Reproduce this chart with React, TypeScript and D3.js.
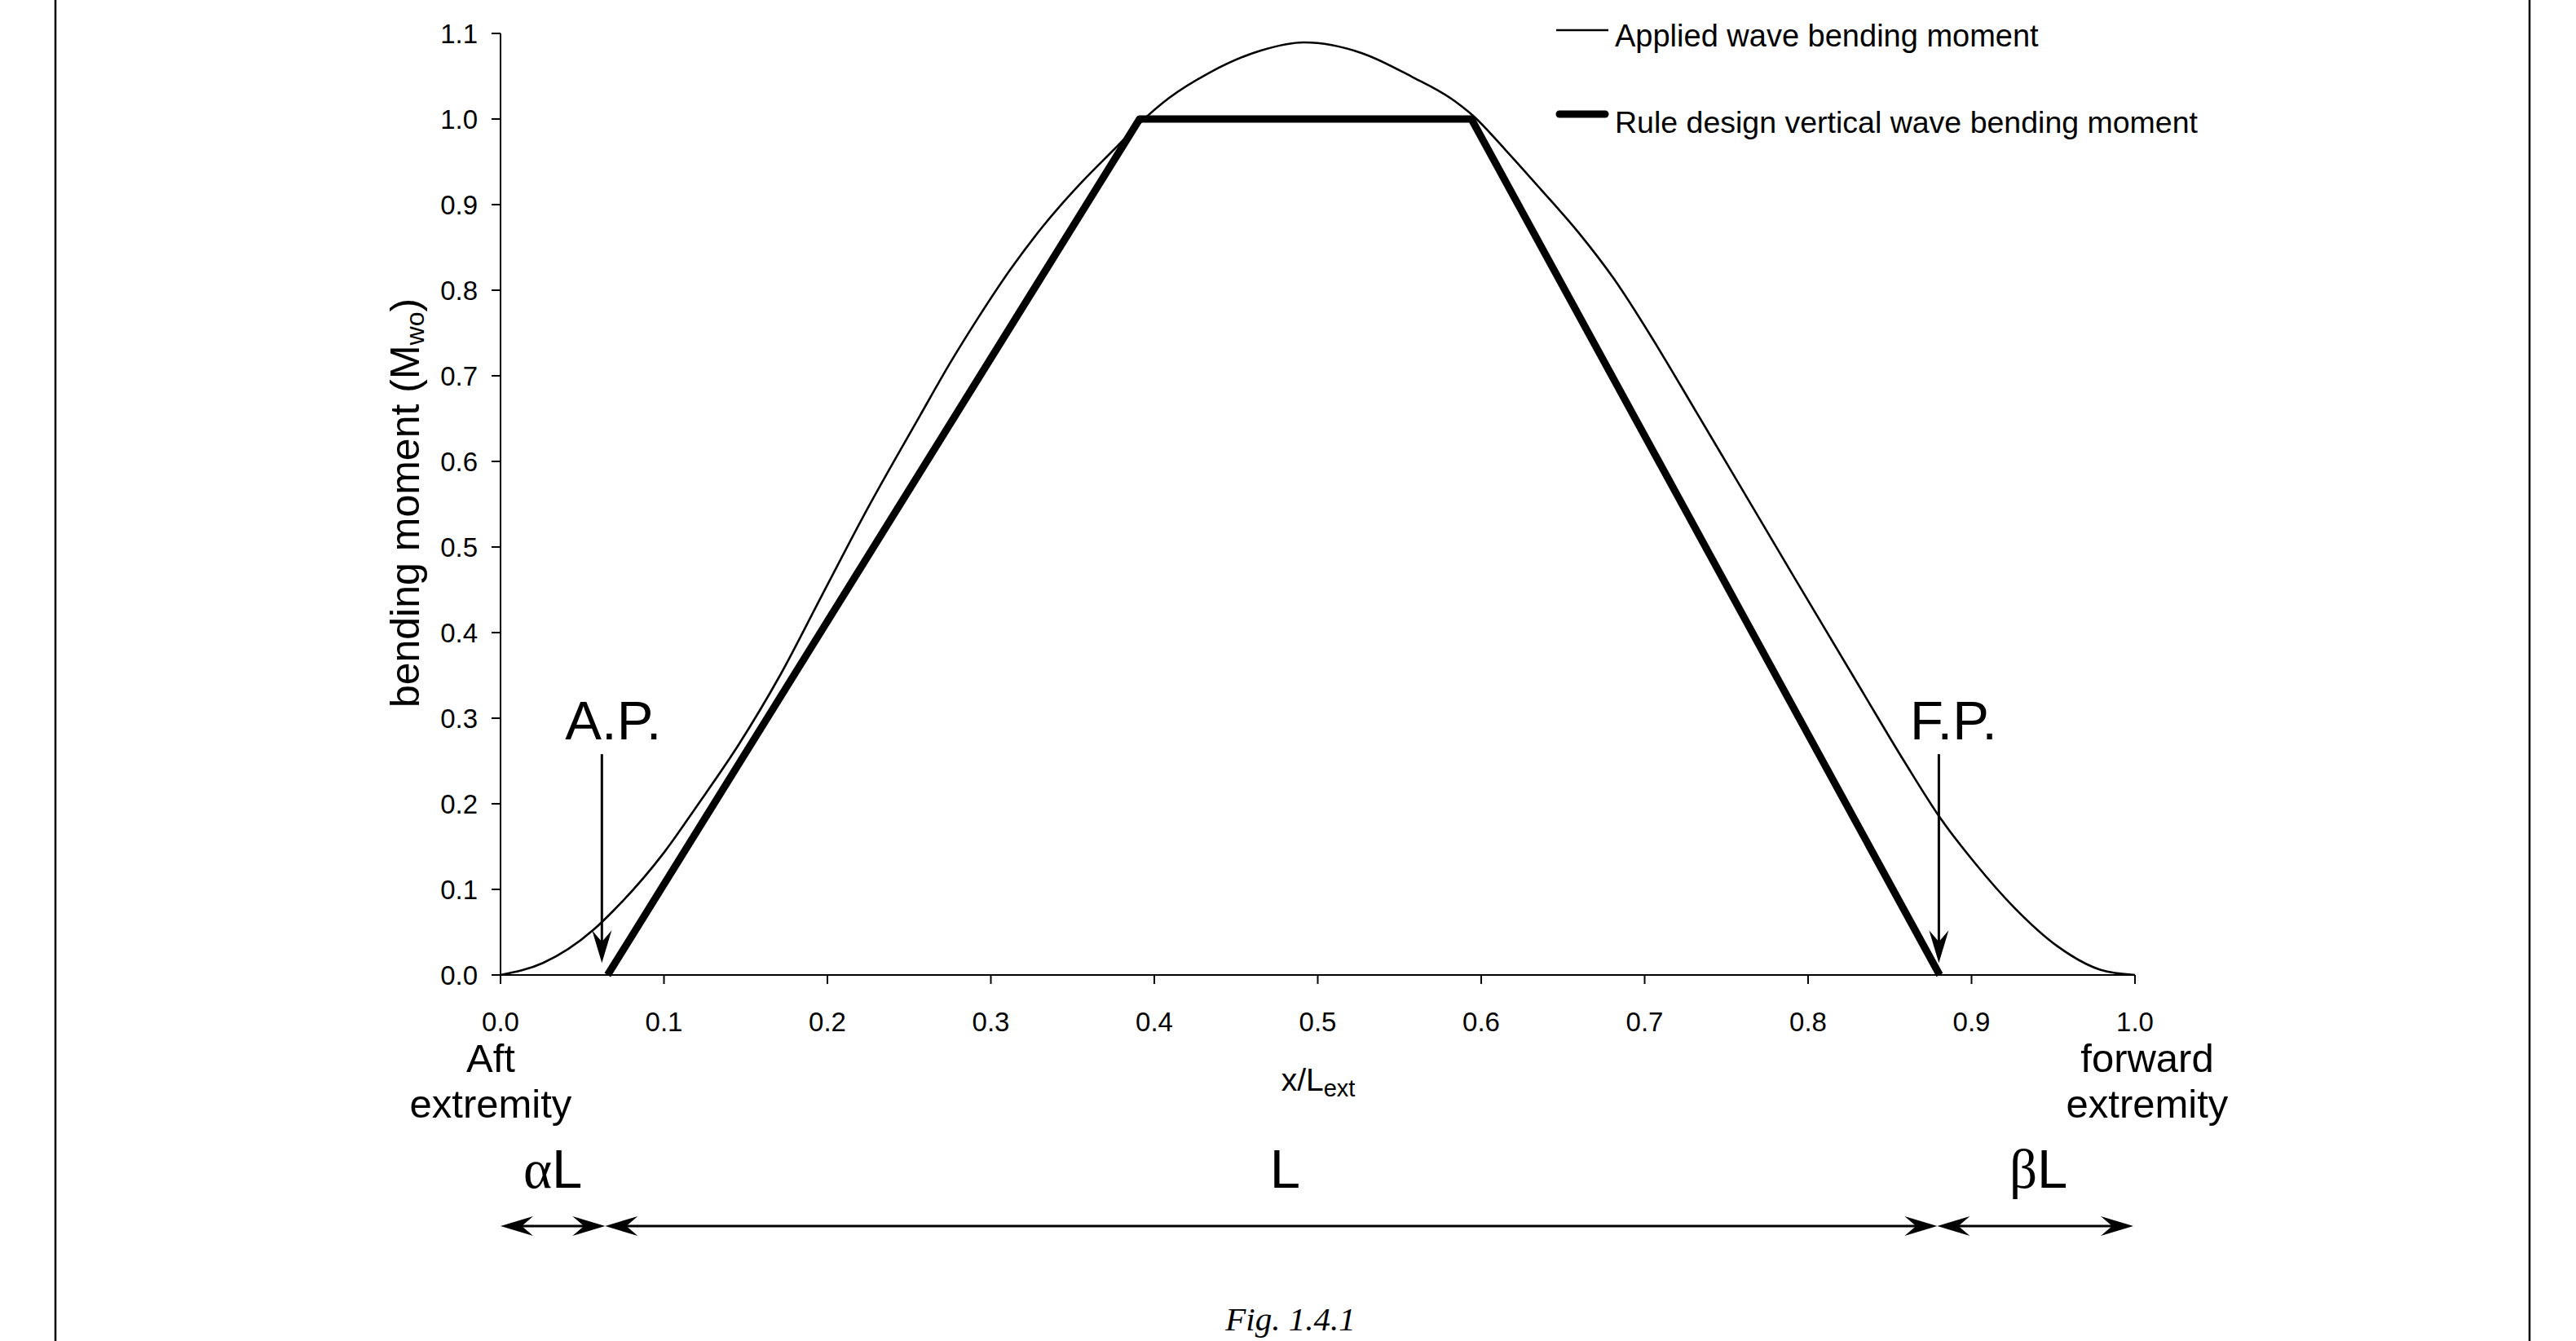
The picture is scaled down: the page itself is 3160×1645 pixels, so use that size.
import React from "react";
import * as d3 from "d3";

// ---- data ----
const xTickValues = [0, 0.1, 0.2, 0.3, 0.4, 0.5, 0.6, 0.7, 0.8, 0.9, 1.0];
const yTickValues = [0, 0.1, 0.2, 0.3, 0.4, 0.5, 0.6, 0.7, 0.8, 0.9, 1.0, 1.1];

// Applied wave bending moment (thin curve)
const appliedX = [0, 0.026, 0.057, 0.069, 0.1, 0.12, 0.146, 0.171, 0.1965, 0.224, 0.2565, 0.2757, 0.2923, 0.3122, 0.3322, 0.3555, 0.3754, 0.391, 0.4086, 0.4336, 0.4652, 0.4915, 0.527, 0.558, 0.5815, 0.5949, 0.6148, 0.6364, 0.6597, 0.6813, 0.7062, 0.7312, 0.752, 0.792, 0.832, 0.859, 0.881, 0.902, 0.926, 0.953, 0.979, 1.0];
const appliedY = [0, 0.014, 0.053, 0.075, 0.143, 0.197, 0.27, 0.35, 0.443, 0.543, 0.653, 0.717, 0.768, 0.825, 0.8755, 0.926, 0.9645, 0.995, 1.024, 1.054, 1.08, 1.0895, 1.077, 1.049, 1.024, 1.004, 0.964, 0.918, 0.867, 0.813, 0.739, 0.659, 0.592, 0.463, 0.335, 0.249, 0.183, 0.131, 0.079, 0.033, 0.006, 0];

// Rule design vertical wave bending moment (thick trapezoid)
const ruleX = [0.0655, 0.391, 0.594, 0.8805];
const ruleY = [0, 1, 1, 0];

const legendLabels = ["Applied wave bending moment", "Rule design vertical wave bending moment"];

// Marker positions
const apX = 0.062;
const fpX = 0.88;
const markerTop = 0.258;
const markerTip = 0.014;
const markerLabelY = 0.275;

// Dimension arrow stations (x/Lext)
const dimStations = [0.0, 0.064, 0.879, 0.999];
const dimLabels = ["αL", "L", "βL"];
const dimLabelX = [0.032, 0.48, 0.941];

const W = 3160;
const H = 1645;
const SANS = "'Liberation Sans', Arial, sans-serif";
const SERIF = "'Liberation Serif', 'Times New Roman', serif";

function arrowHead(tx: number, ty: number, angle: number, len = 40, half = 12, notch = 26) {
  const c = Math.cos(angle);
  const s = Math.sin(angle);
  const pt = (u: number, v: number) => [tx + u * c - v * s, ty + u * s + v * c];
  const p1 = pt(-len, -half);
  const p2 = pt(-notch, 0);
  const p3 = pt(-len, half);
  return `M${tx},${ty}L${p1[0]},${p1[1]}L${p2[0]},${p2[1]}L${p3[0]},${p3[1]}Z`;
}

export default function App() {
  const x = d3.scaleLinear().domain([0, 1]).range([614, 2619]);
  const y = d3.scaleLinear().domain([0, 1.1]).range([1196, 41]);

  const appliedData = appliedX.map((v, i) => [v, appliedY[i]] as [number, number]);
  const ruleData = ruleX.map((v, i) => [v, ruleY[i]] as [number, number]);

  const appliedLine = d3
    .line<[number, number]>()
    .x((d) => x(d[0]))
    .y((d) => y(d[1]))
    .curve(d3.curveMonotoneX);
  const ruleLine = d3
    .line<[number, number]>()
    .x((d) => x(d[0]))
    .y((d) => y(d[1]));

  const fmt = d3.format(".1f");
  const dimY = 1504;

  return (
    <svg
      width={W}
      height={H}
      viewBox={`0 0 ${W} ${H}`}
      style={{ position: "absolute", left: 0, top: 0, background: "#fff" }}
      fontFamily={SANS}
    >
      <rect x={0} y={0} width={W} height={H} fill="#fff" />
      {/* page border lines */}
      <line x1={68} x2={68} y1={0} y2={H} stroke="#000" strokeWidth={2.5} />
      <line x1={3103} x2={3103} y1={0} y2={H} stroke="#000" strokeWidth={2.5} />

      {/* axes */}
      <line x1={x(0)} x2={x(0)} y1={y(0)} y2={y(1.1)} stroke="#000" strokeWidth={2} />
      <line x1={x(0)} x2={x(1)} y1={y(0)} y2={y(0)} stroke="#000" strokeWidth={2} />
      {yTickValues.map((t) => (
        <g key={"yt" + t}>
          <line x1={x(0) - 11} x2={x(0)} y1={y(t)} y2={y(t)} stroke="#000" strokeWidth={2} />
          <text x={586} y={y(t) + 12} fontSize={33} textAnchor="end" fill="#000">
            {fmt(t)}
          </text>
        </g>
      ))}
      {xTickValues.map((t) => (
        <g key={"xt" + t}>
          <line x1={x(t)} x2={x(t)} y1={y(0)} y2={y(0) + 11} stroke="#000" strokeWidth={2} />
          <text x={x(t)} y={1265} fontSize={33} textAnchor="middle" fill="#000">
            {fmt(t)}
          </text>
        </g>
      ))}

      {/* axis titles */}
      <text transform="translate(514,617) rotate(-90)" fontSize={50} textAnchor="middle" fill="#000">
        bending moment (M
        <tspan fontSize={32} dy={6}>wo</tspan>
        <tspan dy={-6}>)</tspan>
      </text>
      <text x={1617} y={1338} fontSize={39} textAnchor="middle" fill="#000">
        x/L
        <tspan fontSize={29} dy={7}>ext</tspan>
      </text>

      {/* series */}
      <path d={appliedLine(appliedData) || ""} fill="none" stroke="#000" strokeWidth={2.6} />
      <path
        d={ruleLine(ruleData) || ""}
        fill="none"
        stroke="#000"
        strokeWidth={9}
        strokeLinejoin="round"
        strokeLinecap="butt"
      />

      {/* legend */}
      <line x1={1909} x2={1973} y1={37} y2={37} stroke="#000" strokeWidth={2.6} />
      <text x={1981} y={57} fontSize={38} fill="#000">
        {legendLabels[0]}
      </text>
      <line x1={1913} x2={1969} y1={140} y2={140} stroke="#000" strokeWidth={9} strokeLinecap="round" />
      <text x={1981} y={163} fontSize={37.5} fill="#000">
        {legendLabels[1]}
      </text>

      {/* A.P. / F.P. markers */}
      {[
        { xv: apX, label: "A.P.", lx: 0.069 },
        { xv: fpX, label: "F.P.", lx: 0.889 },
      ].map((m) => (
        <g key={m.label}>
          <text x={x(m.lx)} y={y(markerLabelY)} fontSize={67} textAnchor="middle" fill="#000">
            {m.label}
          </text>
          <line x1={x(m.xv)} x2={x(m.xv)} y1={y(markerTop)} y2={y(markerTip) - 20} stroke="#000" strokeWidth={3} />
          <path d={arrowHead(x(m.xv), y(markerTip), Math.PI / 2)} fill="#000" />
        </g>
      ))}

      {/* extremity labels */}
      <text x={602} y={1315} fontSize={49} textAnchor="middle" fill="#000">
        Aft
      </text>
      <text x={602} y={1371} fontSize={49} textAnchor="middle" fill="#000">
        extremity
      </text>
      <text x={2634} y={1315} fontSize={49} textAnchor="middle" fill="#000">
        forward
      </text>
      <text x={2634} y={1371} fontSize={49} textAnchor="middle" fill="#000">
        extremity
      </text>

      {/* dimension arrows */}
      {dimStations.slice(0, -1).map((s, i) => {
        const a = x(s);
        const b = x(dimStations[i + 1]);
        return (
          <g key={"dim" + i}>
            <line x1={a + 20} x2={b - 20} y1={dimY} y2={dimY} stroke="#000" strokeWidth={3} />
            <path d={arrowHead(a, dimY, Math.PI)} fill="#000" />
            <path d={arrowHead(b, dimY, 0)} fill="#000" />
          </g>
        );
      })}
      {dimLabels.map((lab, i) => (
        <text key={lab} x={x(dimLabelX[i])} y={1457} fontSize={67} textAnchor="middle" fill="#000">
          {lab.length > 1 ? (
            <>
              <tspan fontFamily={SERIF}>{lab[0]}</tspan>
              <tspan>{lab.slice(1)}</tspan>
            </>
          ) : (
            lab
          )}
        </text>
      ))}

      {/* caption */}
      <text x={1583} y={1632} fontSize={41} fontFamily={SERIF} fontStyle="italic" textAnchor="middle" fill="#000">
        Fig. 1.4.1
      </text>
    </svg>
  );
}
